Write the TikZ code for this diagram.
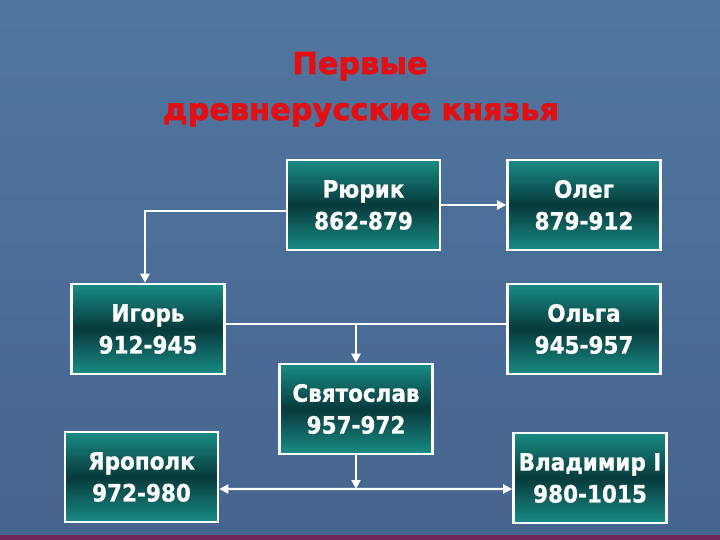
\documentclass[tikz,border=0pt]{standalone}
\usepackage{fontspec}
\setmainfont{DejaVu Sans}
\newfontfamily\princefont[FakeStretch=0.9, BoldFeatures={FakeBold=0.8}]{DejaVu Sans}
\newfontfamily\titlefont[BoldFeatures={FakeBold=2.2}]{DejaVu Sans}
\usetikzlibrary{arrows.meta}
\definecolor{bgtop}{RGB}{80,118,160}
\definecolor{bgbottom}{RGB}{70,100,142}
\definecolor{princeteal}{RGB}{24,140,132}
\definecolor{princedark}{RGB}{8,58,60}
\definecolor{titlered}{RGB}{226,16,18}
\definecolor{stripe}{RGB}{110,40,88}

\begin{document}
\begin{tikzpicture}[x=1bp, y=-1bp,
	prince/.style={draw=white, line width=2.6bp, top color=princeteal, bottom color=princeteal,
		middle color=princedark, minimum width=153bp, minimum height=90bp, inner sep=0pt,
		align=center, text=white, font=\princefont\bfseries\fontsize{24}{32}\selectfont},
	title/.style={anchor=base, inner sep=0pt, text=titlered, font=\titlefont\bfseries\fontsize{30.5}{40}\selectfont},
	link/.style={draw=white, line width=2.2bp},
	tip/.style={-{Triangle[length=9bp,width=9bp]}}]
	\useasboundingbox (0,0) rectangle (720,540);
	\fill [top color=bgtop, bottom color=bgbottom] (0,0) rectangle (720,540);
	\fill [stripe] (0,535) rectangle (720,540);

	% title
	\node [title] (t1) at (360,74) {Первые};
	\node [title] (t2) at (361,120) {древнерусские князья};

	% princes
	\node [prince] (rurik) at (363.5,205) {Рюрик\\862-879};
	\node [prince] (oleg) at (584,205) {Олег\\879-912};
	\node [prince] (igor) at (148,329) {Игорь\\912-945};
	\node [prince] (olga) at (584,329) {Ольга\\945-957};
	\node [prince] (svyat) at (356,409) {Святослав\\957-972};
	\node [prince] (yaropolk) at (141.5,477) {Ярополк\\972-980};
	\node [prince] (vlad) at (590,478) {Владимир I\\980-1015};

	\coordinate (jtop) at (356,324);
	\coordinate (jbot) at (356,489);

	\draw [link, tip] ([yshift=-6bp]rurik.west) -| ([xshift=-3bp]igor.north);
	\draw [link, tip] (rurik.east) -- (oleg.west);
	\draw [link] ([yshift=5bp]igor.east) -- ([yshift=5bp]olga.west);
	\draw [link, tip] (jtop) -- (svyat.north);
	\draw [link, tip] (svyat.south) -- (jbot);
	\draw [link, {Triangle[length=9bp,width=9bp]}-{Triangle[length=9bp,width=9bp]}]
		([yshift=-12bp]yaropolk.east) -- ([yshift=-11bp]vlad.west);
\end{tikzpicture}
\end{document}
